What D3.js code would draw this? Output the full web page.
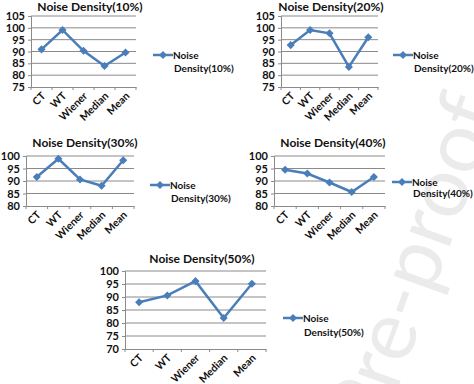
<!DOCTYPE html>
<html>
<head>
<meta charset="utf-8">
<script src="https://cdn.jsdelivr.net/npm/d3@7"></script>
<style>
  body { margin: 0; background: #fff; }
  text { font-family: Lato, "Open Sans", sans-serif; font-weight: bold; fill: #111; }
</style>
</head>
<body>
<svg id="chart" width="474" height="384"></svg>
<script>
var categories = ["CT", "WT", "Wiener", "Median", "Mean"];

var density10 = [90.9, 99.1, 90.3, 83.9, 89.6];
var density20 = [92.7, 99.1, 97.7, 83.5, 96.0];
var density30 = [91.6, 98.9, 90.6, 88.1, 98.3];
var density40 = [94.5, 93.0, 89.4, 85.6, 91.6];
var density50 = [88.0, 90.6, 96.1, 81.9, 95.1];

var ticksA = [75, 80, 85, 90, 95, 100, 105];
var ticksB = [80, 85, 90, 95, 100];
var ticksC = [70, 75, 80, 85, 90, 95, 100];

var labels = ["10%", "20%", "30%", "40%", "50%"];

// panel layout (pixel boxes), not data
var panels = [
  { values: density10, ticks: ticksA, label: labels[0], x0: 31, x1: 136, y0: 16, y1: 87, tx: 90, ty: 11, lx: 153, ly: 55, gap: 13 },
  { values: density20, ticks: ticksA, label: labels[1], x0: 281, x1: 378, y0: 16, y1: 87, tx: 331, ty: 11, lx: 393, ly: 55, gap: 13 },
  { values: density30, ticks: ticksB, label: labels[2], x0: 26, x1: 134, y0: 156, y1: 206, tx: 85, ty: 147, lx: 150, ly: 185, gap: 13 },
  { values: density40, ticks: ticksB, label: labels[3], x0: 274, x1: 385, y0: 156, y1: 206, tx: 333, ty: 147, lx: 392, ly: 182, gap: 11 },
  { values: density50, ticks: ticksC, label: labels[4], x0: 125, x1: 266, y0: 271, y1: 349, tx: 202, ty: 263, lx: 283, ly: 318, gap: 14 }
];

var blue = "#4a7ebb";
var svg = d3.select("#chart");

// faint watermark
svg.append("text")
  .attr("transform", "translate(500,108) rotate(-70)")
  .attr("text-anchor", "end")
  .attr("font-size", 84)
  .style("fill", "#ebebeb")
  .style("font-weight", "normal")
  .text("Journal Pre-proof");

panels.forEach(function (p) {
  var g = svg.append("g");

  var xScale = d3.scaleBand().domain(categories).range([p.x0, p.x1]);
  var yScale = d3.scaleLinear()
    .domain([d3.min(p.ticks), d3.max(p.ticks)])
    .range([p.y1, p.y0]);

  // gridlines
  g.selectAll(".grid")
    .data(p.ticks.slice(1))
    .enter()
    .append("line")
    .attr("x1", p.x0)
    .attr("x2", p.x1)
    .attr("y1", function (d) { return yScale(d); })
    .attr("y2", function (d) { return yScale(d); })
    .attr("stroke", "#8a8a8a")
    .attr("stroke-width", 1);

  // y axis
  var yAxis = g.append("g")
    .attr("transform", "translate(" + p.x0 + ",0)")
    .call(d3.axisLeft(yScale).tickValues(p.ticks).tickSize(3).tickPadding(3));
  yAxis.select(".domain").attr("stroke", "#8a8a8a");
  yAxis.selectAll(".tick line").attr("stroke", "#8a8a8a");
  yAxis.selectAll("text").attr("font-size", 11).style("font-family", "Lato, sans-serif");

  // x axis
  var xAxis = g.append("g")
    .attr("transform", "translate(0," + p.y1 + ")")
    .call(d3.axisBottom(xScale).tickSize(0).tickSizeOuter(0));
  xAxis.select(".domain").attr("stroke", "#8a8a8a");
  xAxis.selectAll(".tick line").remove();
  xAxis.selectAll(".tick text")
    .attr("font-size", 10.5)
    .style("font-family", "Lato, sans-serif")
    .style("text-anchor", "end")
    .attr("x", 0)
    .attr("y", 0)
    .attr("dy", "0.35em")
    .attr("transform", "translate(2,7) rotate(-45)");
  // ticks between categories
  g.selectAll(".xtick")
    .data(categories.concat(["end"]))
    .enter()
    .append("line")
    .attr("x1", function (d, i) { return i < categories.length ? xScale(d) : p.x1; })
    .attr("x2", function (d, i) { return i < categories.length ? xScale(d) : p.x1; })
    .attr("y1", p.y1)
    .attr("y2", p.y1 + 3)
    .attr("stroke", "#8a8a8a");

  // line
  var line = d3.line()
    .x(function (d, i) { return xScale(categories[i]) + xScale.bandwidth() / 2; })
    .y(function (d) { return yScale(d); });

  g.append("path")
    .datum(p.values)
    .attr("d", line)
    .attr("fill", "none")
    .attr("stroke", blue)
    .attr("stroke-width", 2.5);

  g.selectAll(".pt")
    .data(p.values)
    .enter()
    .append("path")
    .attr("d", d3.symbol().type(d3.symbolDiamond2).size(42))
    .attr("transform", function (d, i) {
      return "translate(" + (xScale(categories[i]) + xScale.bandwidth() / 2) + "," + yScale(d) + ")";
    })
    .attr("fill", blue);

  // title
  g.append("text")
    .attr("x", p.tx)
    .attr("y", p.ty)
    .attr("text-anchor", "middle")
    .attr("font-size", 12)
    .text("Noise Density(" + p.label + ")");

  // legend
  g.append("line")
    .attr("x1", p.lx)
    .attr("x2", p.lx + 20)
    .attr("y1", p.ly)
    .attr("y2", p.ly)
    .attr("stroke", blue)
    .attr("stroke-width", 2.5);
  g.append("path")
    .attr("d", d3.symbol().type(d3.symbolDiamond2).size(42))
    .attr("transform", "translate(" + (p.lx + 10) + "," + p.ly + ")")
    .attr("fill", blue);
  g.append("text")
    .attr("x", p.lx + 20)
    .attr("y", p.ly + 4)
    .attr("font-size", 10)
    .text("Noise");
  g.append("text")
    .attr("x", p.lx + 21)
    .attr("y", p.ly + 4 + p.gap)
    .attr("font-size", 10)
    .text("Density(" + p.label + ")");
});
</script>
</body>
</html>
